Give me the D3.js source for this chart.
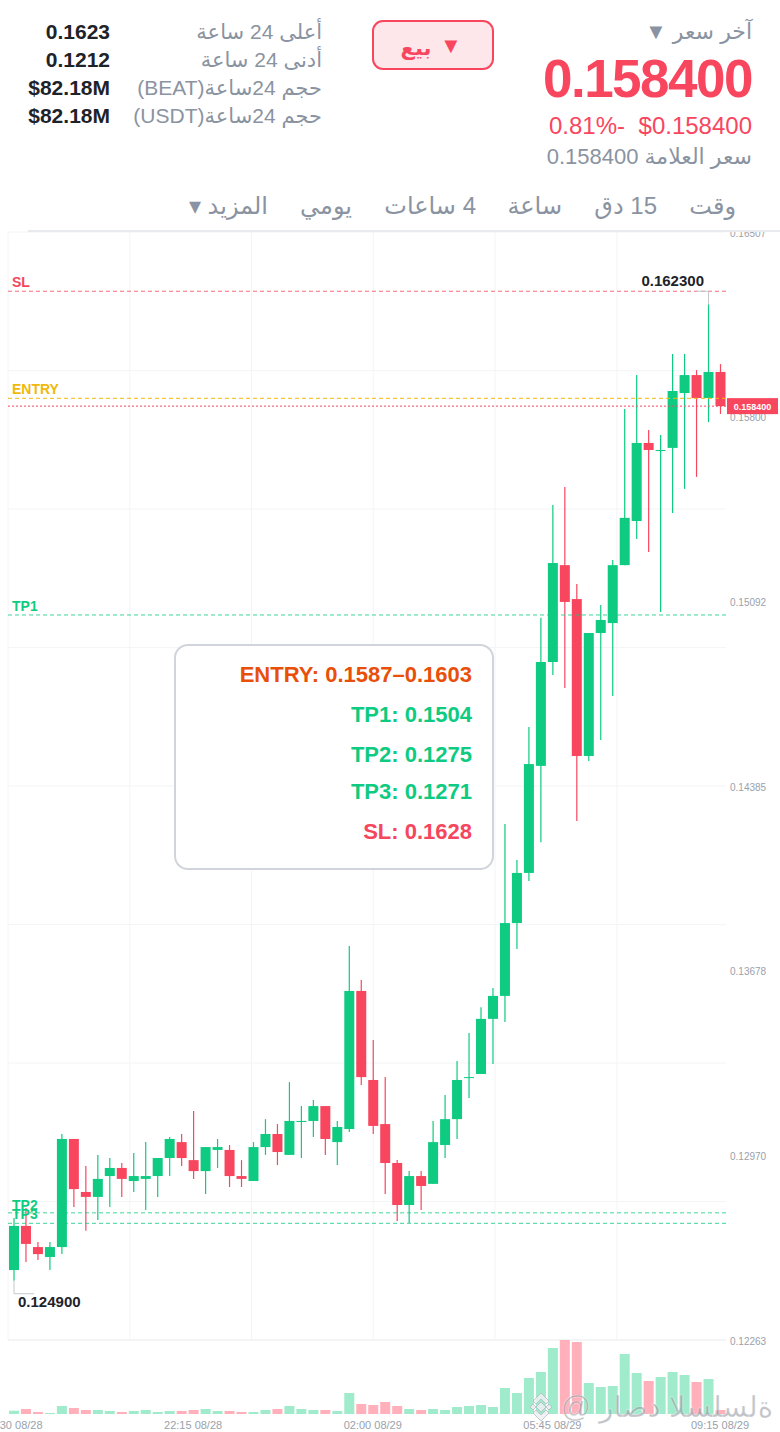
<!DOCTYPE html>
<html lang="ar">
	<head>
		<meta charset="UTF-8">
		<title>BEAT/USDT</title>
		<script src="https://d3js.org/d3.v7.min.js"></script>
		<style>
			html, body { margin: 0; padding: 0; background: #fff; overflow: hidden; }
			svg { display: block; font-family: "Liberation Sans", "DejaVu Sans", sans-serif; }
			.rtl { direction: rtl; text-anchor: start; }
		</style>
	</head>
	<body>
		<script>
			var opens  = [.12531,.12700,.12619,.12581,.12619,.13033,.12830,.12811,.12891,.12922,.12872,.12880,.12891,.12960,.13021,.12952,.12910,.12991,.12991,.12891,.12872,.13002,.13052,.12972,.13098,.13102,.13159,.13021,.13071,.13600,.13259,.13090,.12941,.12780,.12891,.12861,.13010,.13109,.13267,.13282,.13493,.13581,.13860,.14052,.14462,.14860,.15231,.15101,.14500,.14971,.15009,.15231,.15400,.15699,.15668,.15680,.15890,.15959,.15871,.15971];
			var highs  = [.12730,.12769,.12638,.12638,.13052,.13033,.12929,.12972,.12960,.12941,.12979,.13021,.12960,.13041,.13052,.13140,.13002,.13033,.13010,.12952,.13021,.13109,.13090,.13251,.13159,.13182,.13159,.13102,.13772,.13642,.13412,.13270,.12952,.12910,.12910,.13102,.13201,.13332,.13439,.13538,.13611,.14239,.14102,.14611,.15029,.15461,.15530,.15159,.14971,.15078,.15251,.15829,.15959,.15749,.15729,.16040,.16040,.15978,.16230,.16001];
			var lows   = [.12490,.12562,.12569,.12531,.12592,.12772,.12681,.12723,.12772,.12811,.12830,.12761,.12811,.12891,.12929,.12880,.12822,.12922,.12849,.12849,.12872,.12972,.12933,.12972,.12960,.13041,.12972,.12933,.13060,.13240,.13052,.12822,.12719,.12711,.12761,.12861,.12960,.13033,.13190,.13282,.13320,.13481,.13761,.14021,.14170,.14810,.14760,.14251,.14481,.14561,.14730,.15231,.15331,.15281,.15051,.15431,.15523,.15569,.15779,.15810];
			var closes = [.12700,.12631,.12592,.12619,.13033,.12841,.12811,.12880,.12922,.12880,.12891,.12891,.12960,.13033,.12960,.12910,.13002,.13002,.12891,.12880,.13002,.13052,.12983,.13102,.13102,.13159,.13033,.13079,.13600,.13270,.13083,.12941,.12780,.12891,.12853,.13021,.13109,.13259,.13270,.13493,.13581,.13860,.14052,.14469,.14860,.15239,.15090,.14500,.14971,.15021,.15231,.15412,.15699,.15672,.15672,.15898,.15959,.15871,.15971,.15840];
			var volumes = [3.3,5,2,1,8,6,4,4,3,2,3,4,2,3,3,4,5,3,3,2,2,4,5,8,5,4,4,3,21,10,9,12,8,5,4,5,4,7,8,9,7,26,21,36,42,66,74,72,31,27,28,60,41,33,37,42,39,32,35,4];

			var yTicks = [0.16507, 0.15800, 0.15092, 0.14385, 0.13678, 0.12970, 0.12263];
			var yGrid = [0.16507, 0.15976, 0.15446, 0.14915, 0.14385, 0.13854, 0.13324, 0.12793, 0.12263];
			var xGrid = [-0.5, 9.67, 19.83, 30, 40.17, 50.35];
			var xTicks = [0, 15, 30, 45, 59];
			var xLabels = ['18:30 08/28', '22:15 08/28', '02:00 08/29', '05:45 08/29', '09:15 08/29'];

			var levelNames = ['SL', 'ENTRY', 'TP1', 'TP2', 'TP3'];
			var levelValues = [0.1628, 0.1587, 0.1504, 0.1275, 0.1271];
			var levelColors = ['#f6465d', '#f0b90b', '#0ecb81', '#0ecb81', '#0ecb81'];
			var levelLabelY = [282, 389, 606, 1205, 1214];
			var lastPrice = 0.1584;

			var noteLines = ['ENTRY: 0.1587–0.1603', 'TP1: 0.1504', 'TP2: 0.1275', 'TP3: 0.1271', 'SL: 0.1628'];
			var noteColors = ['#e8500a', '#0ecb81', '#0ecb81', '#0ecb81', '#f6465d'];
			var noteY = [682, 722, 762, 799, 839];

			var statLabels = ['أعلى 24 ساعة', 'أدنى 24 ساعة', 'حجم 24ساعة(BEAT)', 'حجم 24ساعة(USDT)'];
			var statValues = ['0.1623', '0.1212', '$82.18M', '$82.18M'];
			var statY = [39, 67, 95, 123];
			var tabLabels = ['وقت', '15 دق', 'ساعة', '4 ساعات', 'يومي', 'المزيد ▾'];
			var tabRight = [736, 657, 562, 476, 352, 268];

			var red = '#f9465f', green = '#0ecb81', grey = '#8a93a1', ink = '#1e2329';
			var width = 780, height = 1432;

			var x = d3.scaleLinear().domain([0, 59]).range([14, 720.5]);
			var y = d3.scaleLinear().domain([0.12263, 0.16507]).range([1340, 232]);
			var vol = d3.scaleLinear().domain([0, 74]).range([1414, 1340]);

			var svg = d3.select('body')
						.append('svg')
						.attr('width', width)
						.attr('height', height);

			// grid
			svg.append('g').selectAll('line')
				.data(yGrid)
				.enter()
					.append('line')
					.attr('x1', 8)
					.attr('x2', 726)
					.attr('y1', function(d) { return y(d); })
					.attr('y2', function(d) { return y(d); })
					.attr('stroke', '#f3f4f6')
					.attr('stroke-width', function(d, i) { return i == 8 ? 2 : 1; });

			svg.append('g').selectAll('line')
				.data(xGrid)
				.enter()
					.append('line')
					.attr('x1', function(d) { return x(d); })
					.attr('x2', function(d) { return x(d); })
					.attr('y1', 232)
					.attr('y2', 1340)
					.attr('stroke', '#f3f4f6');

			// axes
			var yAxis = svg.append('g')
							.attr('transform', 'translate(730,1)')
							.call(d3.axisRight(y).tickValues(yTicks).tickFormat(d3.format('.5f')).tickSize(0).tickPadding(0));
			var xAxis = svg.append('g')
							.attr('transform', 'translate(-1,1421)')
							.call(d3.axisBottom(x).tickValues(xTicks).tickFormat(function(d, i) { return xLabels[i]; }).tickSize(0).tickPadding(0));
			[yAxis, xAxis].forEach(function(a) {
				a.select('.domain').remove();
				a.selectAll('text')
					.attr('fill', '#9aa1ab')
					.style('font-family', '"Liberation Sans"')
					.style('font-size', a === yAxis ? '10px' : '11px');
			});

			// volume
			svg.append('g').selectAll('rect')
				.data(volumes)
				.enter()
					.append('rect')
					.attr('x', function(d, i) { return x(i) - 5; })
					.attr('y', function(d) { return vol(d); })
					.attr('width', 10)
					.attr('height', function(d) { return vol(0) - vol(d); })
					.attr('fill', function(d, i) { return closes[i] < opens[i] ? '#ffb0bb' : '#9febcb'; });

			// candles
			var candles = svg.append('g').selectAll('g')
								.data(d3.range(opens.length))
								.enter()
									.append('g');
			candles.append('line')
					.attr('x1', function(i) { return x(i); })
					.attr('x2', function(i) { return x(i); })
					.attr('y1', function(i) { return y(highs[i]); })
					.attr('y2', function(i) { return y(lows[i]); })
					.attr('stroke', function(i) { return closes[i] < opens[i] ? red : green; })
					.attr('stroke-width', 1.2);
			candles.append('rect')
					.attr('x', function(i) { return x(i) - 5; })
					.attr('y', function(i) { return y(Math.max(opens[i], closes[i])); })
					.attr('width', 10)
					.attr('height', function(i) { return Math.max(1, Math.abs(y(opens[i]) - y(closes[i]))); })
					.attr('fill', function(i) { return closes[i] < opens[i] ? red : green; });

			// level lines
			svg.append('g').selectAll('line')
				.data(levelValues)
				.enter()
					.append('line')
					.attr('x1', 8)
					.attr('x2', 726)
					.attr('y1', function(d) { return y(d); })
					.attr('y2', function(d) { return y(d); })
					.attr('stroke', function(d, i) { return levelColors[i]; })
					.attr('stroke-opacity', function(d, i) { return i == 1 ? 1 : 0.8; })
					.attr('stroke-dasharray', '4 3');
			svg.append('g').selectAll('text')
				.data(levelNames)
				.enter()
					.append('text')
					.attr('x', 12)
					.attr('y', function(d, i) { return levelLabelY[i] + 5; })
					.attr('fill', function(d, i) { return levelColors[i]; })
					.attr('font-size', 14)
					.attr('font-weight', 'bold')
					.text(function(d) { return d; });

			svg.append('line')
				.attr('x1', 8)
				.attr('x2', 726)
				.attr('y1', y(lastPrice))
				.attr('y2', y(lastPrice))
				.attr('stroke', red)
				.attr('stroke-dasharray', '2 2');
			svg.append('rect')
				.attr('x', 727)
				.attr('y', y(lastPrice) - 8)
				.attr('width', 51)
				.attr('height', 16)
				.attr('fill', red);
			svg.append('text')
				.attr('x', 752.5)
				.attr('y', y(lastPrice) + 4)
				.attr('text-anchor', 'middle')
				.attr('fill', '#fff')
				.attr('font-size', 9)
				.attr('font-weight', 'bold')
				.text('0.158400');

			// high and low markers
			var hx = x(58), hy = y(0.1628);
			svg.append('path')
				.attr('d', 'M' + (hx - 12) + ',' + hy + 'H' + hx + 'V' + y(d3.max(highs)))
				.attr('fill', 'none')
				.attr('stroke', '#c4c8ce');
			svg.append('text')
				.attr('x', 704)
				.attr('y', 286)
				.attr('text-anchor', 'end')
				.attr('fill', ink)
				.attr('font-size', 15)
				.attr('font-weight', 'bold')
				.text('0.162300');
			var lx = x(0), ly = y(d3.min(lows));
			svg.append('path')
				.attr('d', 'M' + lx + ',' + ly + 'V' + (ly + 13) + 'H' + (lx + 20))
				.attr('fill', 'none')
				.attr('stroke', '#c4c8ce');
			svg.append('text')
				.attr('x', 18)
				.attr('y', 1307)
				.attr('fill', ink)
				.attr('font-size', 15)
				.attr('font-weight', 'bold')
				.text('0.124900');

			// note box
			svg.append('rect')
				.attr('x', 175)
				.attr('y', 645)
				.attr('width', 318)
				.attr('height', 224)
				.attr('rx', 13)
				.attr('fill', '#fff')
				.attr('stroke', '#d1d5db')
				.attr('stroke-width', 2);
			svg.append('g').selectAll('text')
				.data(noteLines)
				.enter()
					.append('text')
					.attr('x', 472)
					.attr('y', function(d, i) { return noteY[i]; })
					.attr('text-anchor', 'end')
					.attr('fill', function(d, i) { return noteColors[i]; })
					.attr('font-size', 22)
					.attr('font-weight', 'bold')
					.text(function(d) { return d; });

			// header, covers the top half of the first axis label
			svg.append('rect').attr('width', width).attr('height', 230).attr('fill', '#fff');
			svg.append('line')
				.attr('x1', 28)
				.attr('x2', width)
				.attr('y1', 231)
				.attr('y2', 231)
				.attr('stroke', '#e8eaee')
				.attr('stroke-width', 2);

			svg.append('text').attr('class', 'rtl').attr('x', 752).attr('y', 39)
				.attr('fill', grey).attr('font-size', 22).text('آخر سعر ▼');
			svg.append('text').attr('x', 752).attr('y', 97).attr('text-anchor', 'end')
				.attr('fill', red).attr('font-size', 53).attr('font-weight', 'bold')
				.attr('letter-spacing', -1.5).text('0.158400');
			svg.append('text').attr('x', 752).attr('y', 134).attr('text-anchor', 'end')
				.attr('fill', red).attr('font-size', 24).text('$0.158400');
			svg.append('text').attr('x', 625).attr('y', 134).attr('text-anchor', 'end')
				.attr('fill', red).attr('font-size', 24).text('0.81%-');
			svg.append('text').attr('class', 'rtl').attr('x', 752).attr('y', 164)
				.attr('fill', grey).attr('font-size', 22).text('سعر العلامة 0.158400');

			svg.append('rect')
				.attr('x', 373)
				.attr('y', 21)
				.attr('width', 120)
				.attr('height', 48)
				.attr('rx', 10)
				.attr('fill', '#fde7ea')
				.attr('stroke', red)
				.attr('stroke-width', 2);
			svg.append('text').attr('x', 451).attr('y', 53).attr('text-anchor', 'middle')
				.attr('fill', red).attr('font-size', 22).attr('font-weight', 'bold').text('▼');
			svg.append('text').attr('x', 416).attr('y', 55).attr('text-anchor', 'middle')
				.attr('fill', red).attr('font-size', 21).attr('font-weight', 'bold').text('بيع');

			svg.append('g').selectAll('text')
				.data(statLabels)
				.enter()
					.append('text')
					.attr('class', 'rtl')
					.attr('x', 322)
					.attr('y', function(d, i) { return statY[i]; })
					.attr('fill', grey)
					.attr('font-size', 21)
					.text(function(d) { return d; });
			svg.append('g').selectAll('text')
				.data(statValues)
				.enter()
					.append('text')
					.attr('x', 110)
					.attr('y', function(d, i) { return statY[i]; })
					.attr('text-anchor', 'end')
					.attr('fill', ink)
					.attr('font-size', 21)
					.attr('font-weight', 'bold')
					.text(function(d) { return d; });

			svg.append('g').selectAll('text')
				.data(tabLabels)
				.enter()
					.append('text')
					.attr('class', 'rtl')
					.attr('x', function(d, i) { return tabRight[i]; })
					.attr('y', 214)
					.attr('fill', grey)
					.attr('font-size', 24)
					.text(function(d) { return d; });

			// watermark
			var logo = svg.append('g')
							.attr('transform', 'translate(541,1407)')
							.attr('fill', '#eef0f2')
							.attr('fill-opacity', 0.85)
							.attr('stroke', '#b4b9c0')
							.attr('stroke-width', 0.8);
			logo.append('path').attr('d', 'M0,-5L5,0L0,5L-5,0Z');
			logo.append('path').attr('d', 'M-11,0L-8,-3L-5,0L-8,3Z');
			logo.append('path').attr('d', 'M11,0L8,-3L5,0L8,3Z');
			logo.append('path').attr('d', 'M0,-14L8,-6L5,-3L0,-8L-5,-3L-8,-6Z');
			logo.append('path').attr('d', 'M0,14L8,6L5,3L0,8L-5,3L-8,6Z');
			svg.append('text')
				.attr('x', 561)
				.attr('y', 1417)
				.attr('fill', '#8a8f98')
				.attr('fill-opacity', 0.55)
				.attr('stroke', '#fff')
				.attr('stroke-opacity', 0.5)
				.attr('stroke-width', 0.7)
				.attr('font-size', 29.5)
				.style('direction', 'ltr')
				.style('unicode-bidi', 'bidi-override')
				.text('@ راصد السلسلة');
		</script>
	</body>
</html>
